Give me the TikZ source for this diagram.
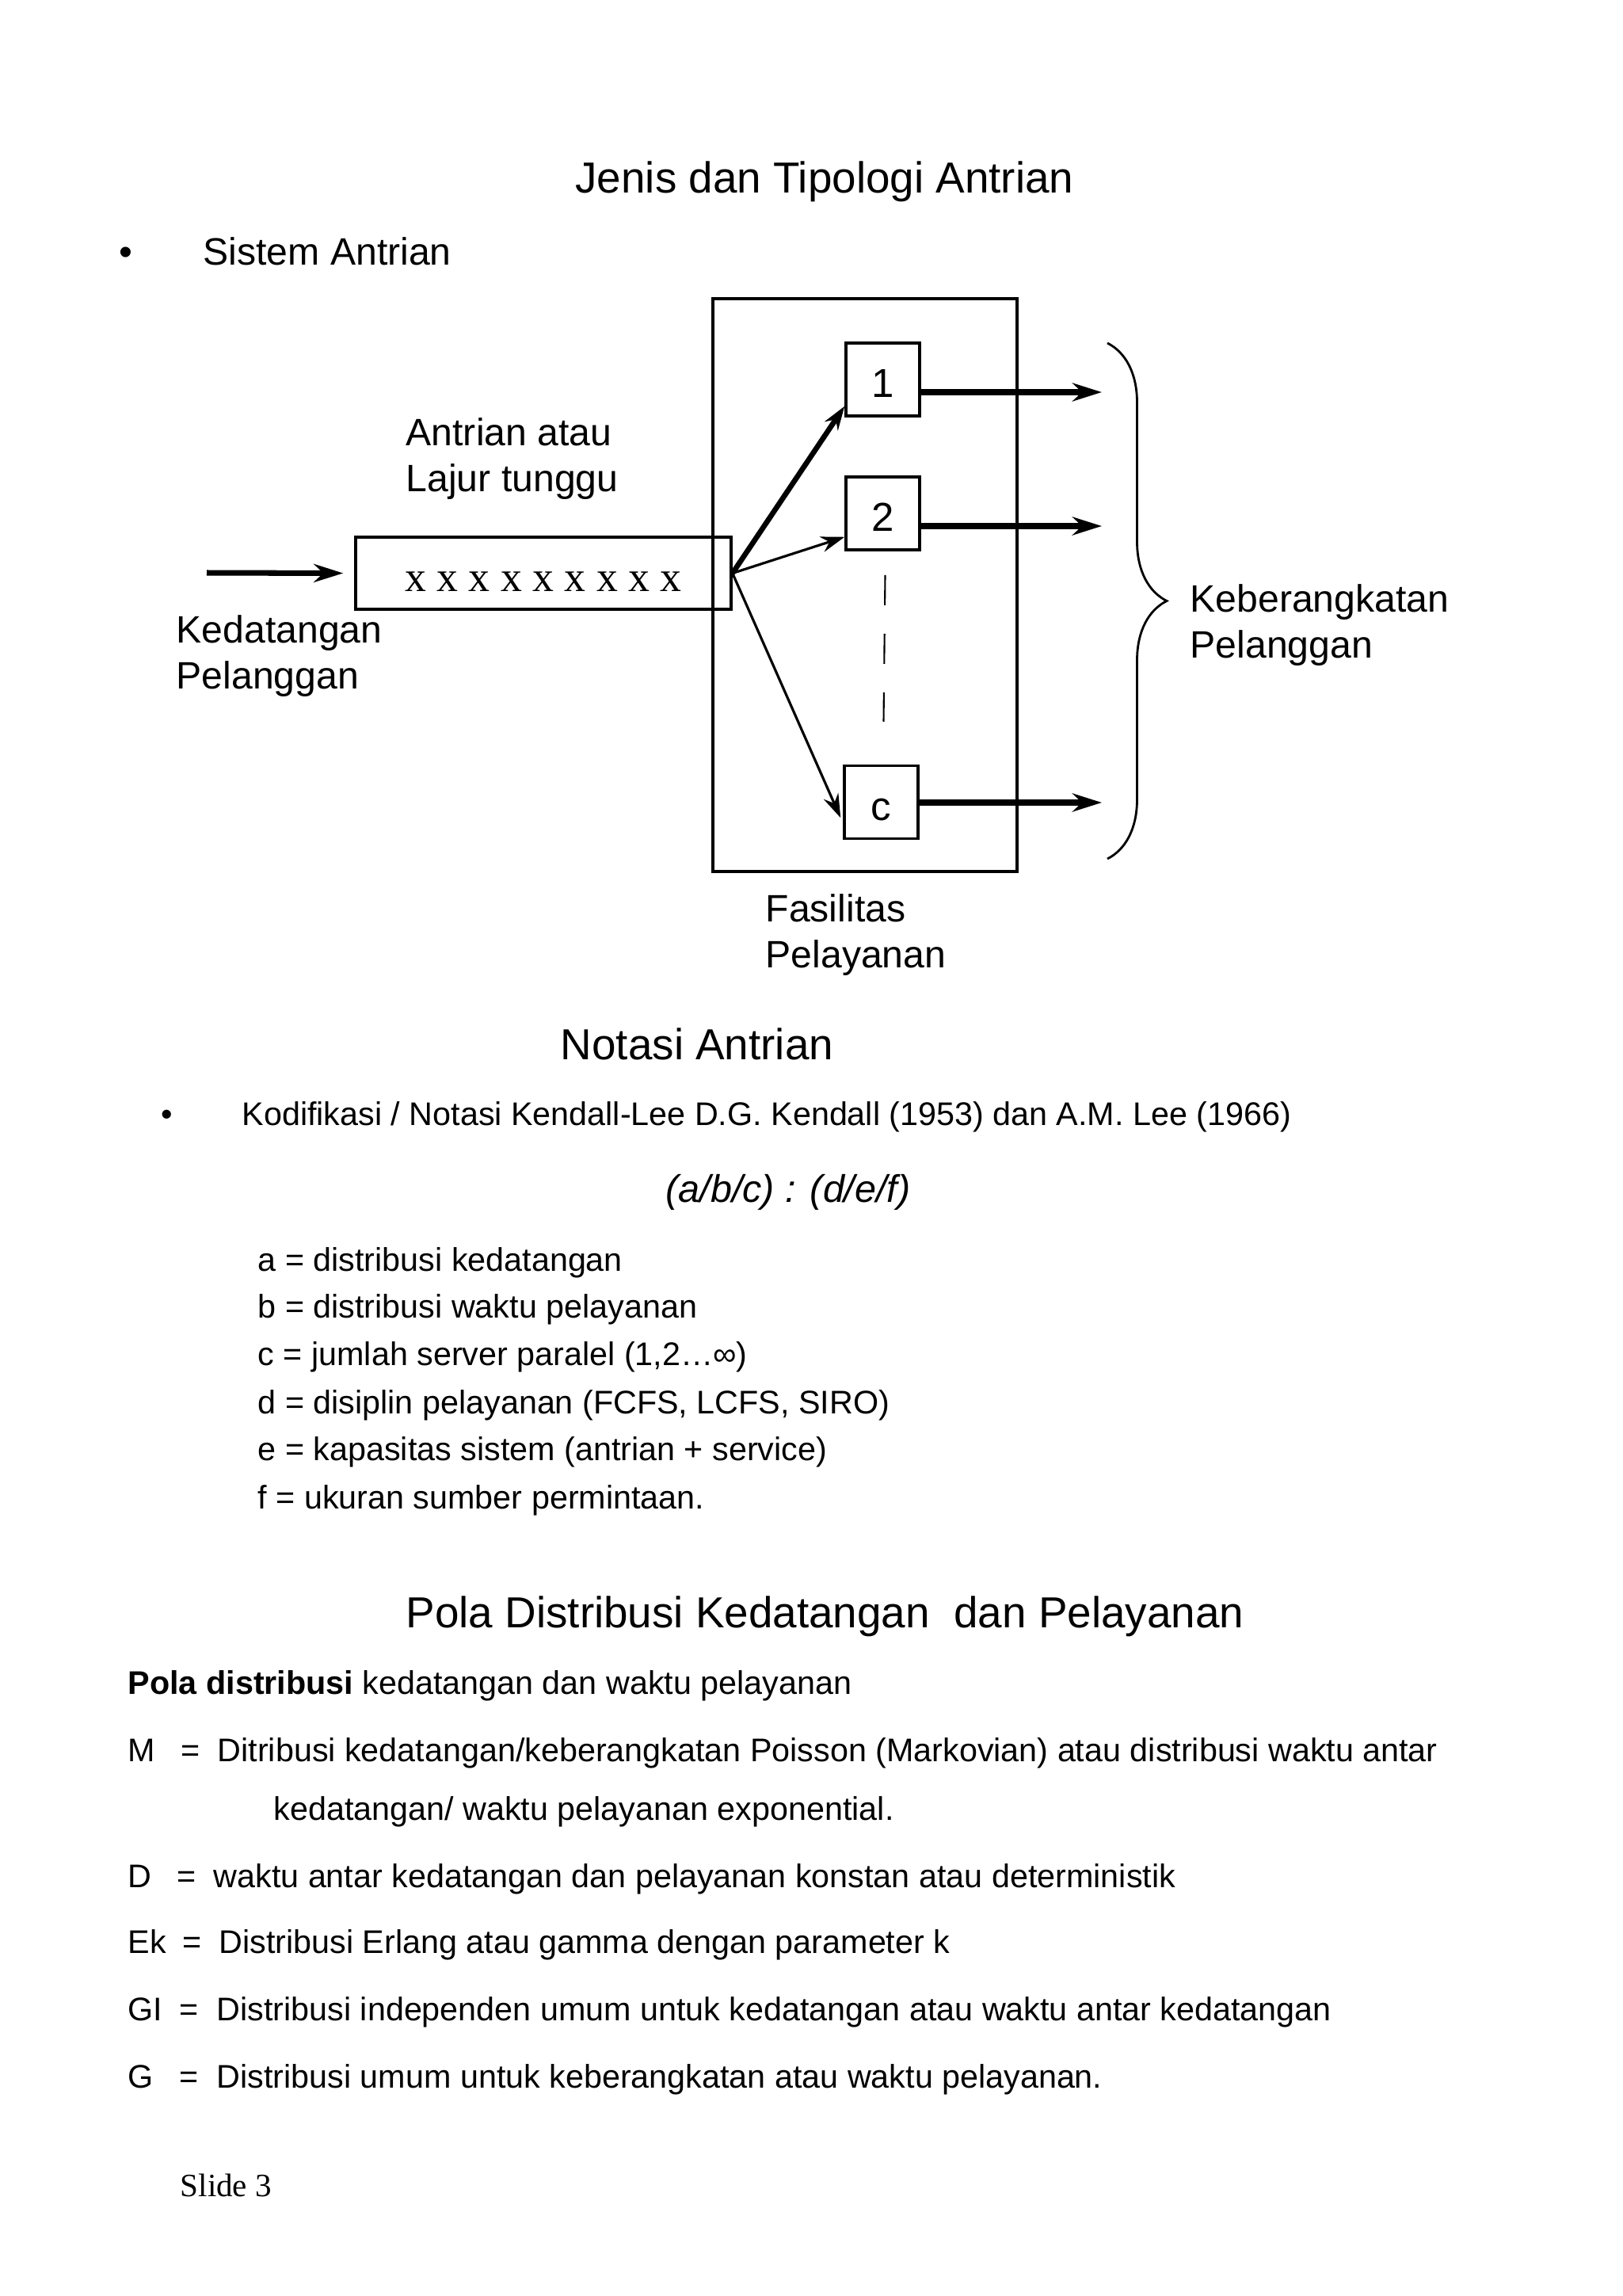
\documentclass[tikz,border=0pt]{standalone}
\usepackage{fontspec}
\setmainfont{Liberation Sans}
\newfontfamily\timesfont{Liberation Serif}
\usepackage{tikz}
\usetikzlibrary{arrows.meta, positioning, calc, decorations.pathreplacing}
\tikzstyle{heading} = [font=\fontsize{15.6}{18.7}\selectfont, anchor=base, inner sep=0pt]
\tikzstyle{diagtext} = [font=\fontsize{13.7}{16.5}\selectfont, anchor=base west, align=left, inner sep=0pt]
\tikzstyle{bodytext} = [font=\fontsize{11.75}{14}\selectfont, anchor=base west, inner sep=0pt]
\tikzstyle{server} = [draw, line width=1pt, minimum width=0.93cm, minimum height=0.92cm, inner sep=0pt, text height=0.45cm, text depth=0pt, font=\fontsize{14.5}{17}\selectfont]
\tikzstyle{outarrow} = [-{Stealth[length=3.7mm, width=2.3mm, inset=1.2mm]}, line width=2pt]
\tikzstyle{thickfeed} = [-{Stealth[length=3mm, width=2mm, inset=1mm]}, line width=1.9pt]
\tikzstyle{thinfeed} = [-{Stealth[length=3mm, width=2mm, inset=1mm]}, line width=0.9pt]

\begin{document}
\begin{tikzpicture}[x=1cm, y=-1cm]
    \useasboundingbox (0,0) rectangle (20.48,28.98);

    % Title
    \node[heading] (title) at (10.41, 2.43) {Jenis dan Tipologi Antrian};
    \node[diagtext, anchor=base] (bullet1) at (1.59, 3.34) {\textbullet};
    \node[diagtext] (sistem) at (2.56, 3.34) {Sistem Antrian};

    % Queue system
    \node[draw, line width=1pt, minimum width=3.84cm, minimum height=7.23cm] (facility) at (10.92, 7.385) {};
    \node[draw, line width=1pt, minimum width=4.74cm, minimum height=0.91cm, inner sep=0pt, text height=0.45cm, text depth=0pt, font=\timesfont\fontsize{15.3}{18}\selectfont] (queue) at (6.86, 7.235) {x x x x x x x x x};
    \node[server] (s1) at (11.145, 4.79) {1};
    \node[server] (s2) at (11.145, 6.48) {2};
    \node[server] (sc) at (11.125, 10.125) {c};

    \coordinate (arrive) at (2.61, 7.23);
    \draw[outarrow] (arrive) -- ([xshift=-0.14cm]queue.west);
    \draw[thickfeed] (queue.east) -- ($(s1.south west)+(0,-0.14)$);
    \draw[thinfeed] (queue.east) -- ($(s2.south west)+(0,-0.18)$);
    \draw[thinfeed] (queue.east) -- ($(sc.south west)+(-0.03,-0.28)$);
    \draw[line width=0.6pt, dash pattern=on 0.38cm off 0.36cm] ($(s2.south)+(0.03,0.30)$) -- ($(sc.north)+(0.03,-0.54)$);

    \coordinate (exit1) at (13.91, 4.95);
    \coordinate (exit2) at (13.91, 6.64);
    \coordinate (exitc) at (13.91, 10.13);
    \draw[outarrow] (s1.east |- exit1) -- (exit1);
    \draw[outarrow] (s2.east |- exit2) -- (exit2);
    \draw[outarrow] (sc.east |- exitc) -- (exitc);

    \coordinate (bracetop) at (13.98, 4.33);
    \coordinate (bracebot) at (13.98, 10.84);
    \draw[line width=0.8pt, decorate, decoration={brace, amplitude=0.75cm}] (bracetop) -- (bracebot);

    \node[diagtext] (lajur) at (5.12, 6.20) {Antrian atau\\Lajur tunggu};
    \node[diagtext] (kedatangan) at (2.22, 8.69) {Kedatangan\\Pelanggan};
    \node[diagtext] (keberangkatan) at (15.02, 8.30) {Keberangkatan\\Pelanggan};
    \node[diagtext] (fasilitas) at (9.66, 12.21) {Fasilitas\\Pelayanan};

    % Notation
    \node[heading] (notasi) at (8.80, 13.37) {Notasi Antrian};
    \node[bodytext, anchor=base] (bullet2) at (2.11, 14.20) {\textbullet};
    \node[bodytext] (kodifikasi) at (3.05, 14.20) {Kodifikasi / Notasi Kendall-Lee D.G. Kendall (1953) dan A.M. Lee (1966)};
    \node[font=\itshape\fontsize{13.8}{16}\selectfont, anchor=base, inner sep=0pt] (formula) at (9.95, 15.17) {(a/b/c) : (d/e/f)};
    \node[bodytext] (itema) at (3.25, 16.04) {a = distribusi kedatangan};
    \node[bodytext] (itemb) at (3.25, 16.63) {b = distribusi waktu pelayanan};
    \node[bodytext] (itemc) at (3.25, 17.23) {c = jumlah server paralel (1,2…∞)};
    \node[bodytext] (itemd) at (3.25, 17.84) {d = disiplin pelayanan (FCFS, LCFS, SIRO)};
    \node[bodytext] (iteme) at (3.25, 18.43) {e = kapasitas sistem (antrian + service)};
    \node[bodytext] (itemf) at (3.25, 19.04) {f = ukuran sumber permintaan.};

    % Distribution patterns
    \node[heading, anchor=base west] (pola) at (5.12, 20.54) {Pola Distribusi Kedatangan\ \ dan Pelayanan};
    \node[bodytext] (polaintro) at (1.61, 21.38) {\textbf{Pola distribusi} kedatangan dan waktu pelayanan};
    \node[bodytext] (keyM) at (1.61, 22.23) {M};
    \node[bodytext] (eqM) at (2.28, 22.23) {=};
    \node[bodytext] (descM) at (2.74, 22.23) {Ditribusi kedatangan/keberangkatan Poisson (Markovian) atau distribusi waktu antar};
    \node[bodytext] (descM2) at (3.45, 22.97) {kedatangan/ waktu pelayanan exponential.};
    \node[bodytext] (keyD) at (1.61, 23.82) {D};
    \node[bodytext] (eqD) at (2.23, 23.82) {=};
    \node[bodytext] (descD) at (2.69, 23.82) {waktu antar kedatangan dan pelayanan konstan atau deterministik};
    \node[bodytext] (keyE) at (1.61, 24.65) {Ek};
    \node[bodytext] (eqE) at (2.30, 24.65) {=};
    \node[bodytext] (descE) at (2.76, 24.65) {Distribusi Erlang atau gamma dengan parameter k};
    \node[bodytext] (keyGI) at (1.61, 25.50) {GI};
    \node[bodytext] (eqGI) at (2.26, 25.50) {=};
    \node[bodytext] (descGI) at (2.73, 25.50) {Distribusi independen umum untuk kedatangan atau waktu antar kedatangan};
    \node[bodytext] (keyG) at (1.61, 26.35) {G};
    \node[bodytext] (eqG) at (2.26, 26.35) {=};
    \node[bodytext] (descG) at (2.73, 26.35) {Distribusi umum untuk keberangkatan atau waktu pelayanan.};

    % Footer
    \node[bodytext, font=\timesfont\fontsize{11.7}{14}\selectfont] (slide) at (2.27, 27.72) {Slide 3};
\end{tikzpicture}
\end{document}
